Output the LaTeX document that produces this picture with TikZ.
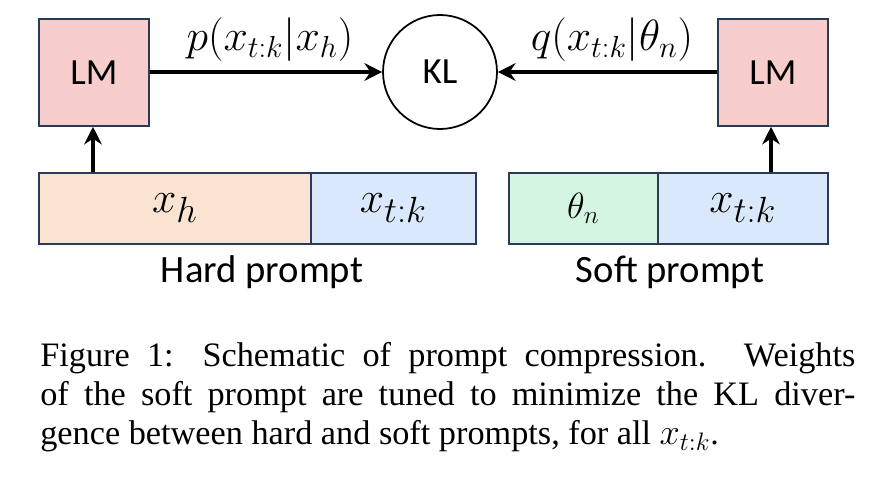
\documentclass[tikz,border=0pt]{standalone}
\usepackage{fontspec}
\usepackage{amsmath}
\setmainfont{Liberation Serif}
\newfontfamily\sans{Carlito}
\usetikzlibrary{arrows.meta}
\definecolor{pinkf}{HTML}{F8CECC}
\definecolor{tanf}{HTML}{FAE3D0}
\definecolor{bluef}{HTML}{DAE8FC}
\definecolor{greenf}{HTML}{D5F5E3}
\definecolor{edge}{HTML}{2B3A55}
\begin{document}
\begin{tikzpicture}[x=0.02cm,y=-0.02cm,
  bx/.style={draw=edge,line width=1pt,inner sep=0pt,anchor=north west},
  lm/.style={bx,fill=pinkf,minimum width=110*0.02cm,minimum height=107*0.02cm,font=\sans\fontsize{21}{24}\selectfont},
  arr/.style={-{Stealth[length=10pt,width=10pt]},line width=2.2pt},
  lab/.style={font=\fontsize{26}{30}\selectfont}]
\useasboundingbox (0,0) rectangle (876,490);
\node[lm] (lml) at (38,18) {LM};
\node[lm] (lmr) at (717,18) {LM};
\node[draw=black,line width=1pt,circle,minimum size=114*0.02cm,font=\sans\fontsize{21}{24}\selectfont] (kl) at (440,72) {KL};
\node[bx,fill=tanf,minimum width=272*0.02cm,minimum height=71*0.02cm,font=\fontsize{29}{32}\selectfont] (xh) at (38,172) {$x_h$};
\node[bx,fill=bluef,minimum width=165*0.02cm,minimum height=71*0.02cm,font=\fontsize{29}{32}\selectfont] (xtl) at (310,172) {$x_{t:k}$};
\node[bx,fill=greenf,minimum width=149*0.02cm,minimum height=71*0.02cm,font=\fontsize{21}{24}\selectfont] (th) at (508,172) {$\theta_n$};
\node[bx,fill=bluef,minimum width=170*0.02cm,minimum height=71*0.02cm,font=\fontsize{29}{32}\selectfont] (xtr) at (657,172) {$x_{t:k}$};
\coordinate (al) at (93,172); \coordinate (ar) at (771,172);
\draw[arr] (al) -- (al|-lml.south);
\draw[arr] (ar) -- (ar|-lmr.south);
\draw[arr] (lml.east|-kl.center) -- (kl.west);
\draw[arr] (lmr.west|-kl.center) -- (kl.east);
\node[lab] (pl) at (270,40) {$p(x_{t:k}|x_h)$};
\node[lab] (ql) at (612,40) {$q(x_{t:k}|\theta_n)$};
\node[font=\sans\fontsize{22}{26}\selectfont] (hp) at (262,272) {Hard prompt};
\node[font=\sans\fontsize{22}{26}\selectfont] (sp) at (670,272) {Soft prompt};
\node[anchor=north west,text width=815*0.02cm,align=justify,inner sep=0pt,font=\fontsize{19.5}{22.3}\selectfont] (cap) at (40,342)
{Figure 1: Schematic of prompt compression. Weights\linebreak of the soft prompt are tuned to minimize the KL diver-\linebreak gence between hard and soft prompts, for all $x_{t:k}$.};
\end{tikzpicture}
\end{document}
